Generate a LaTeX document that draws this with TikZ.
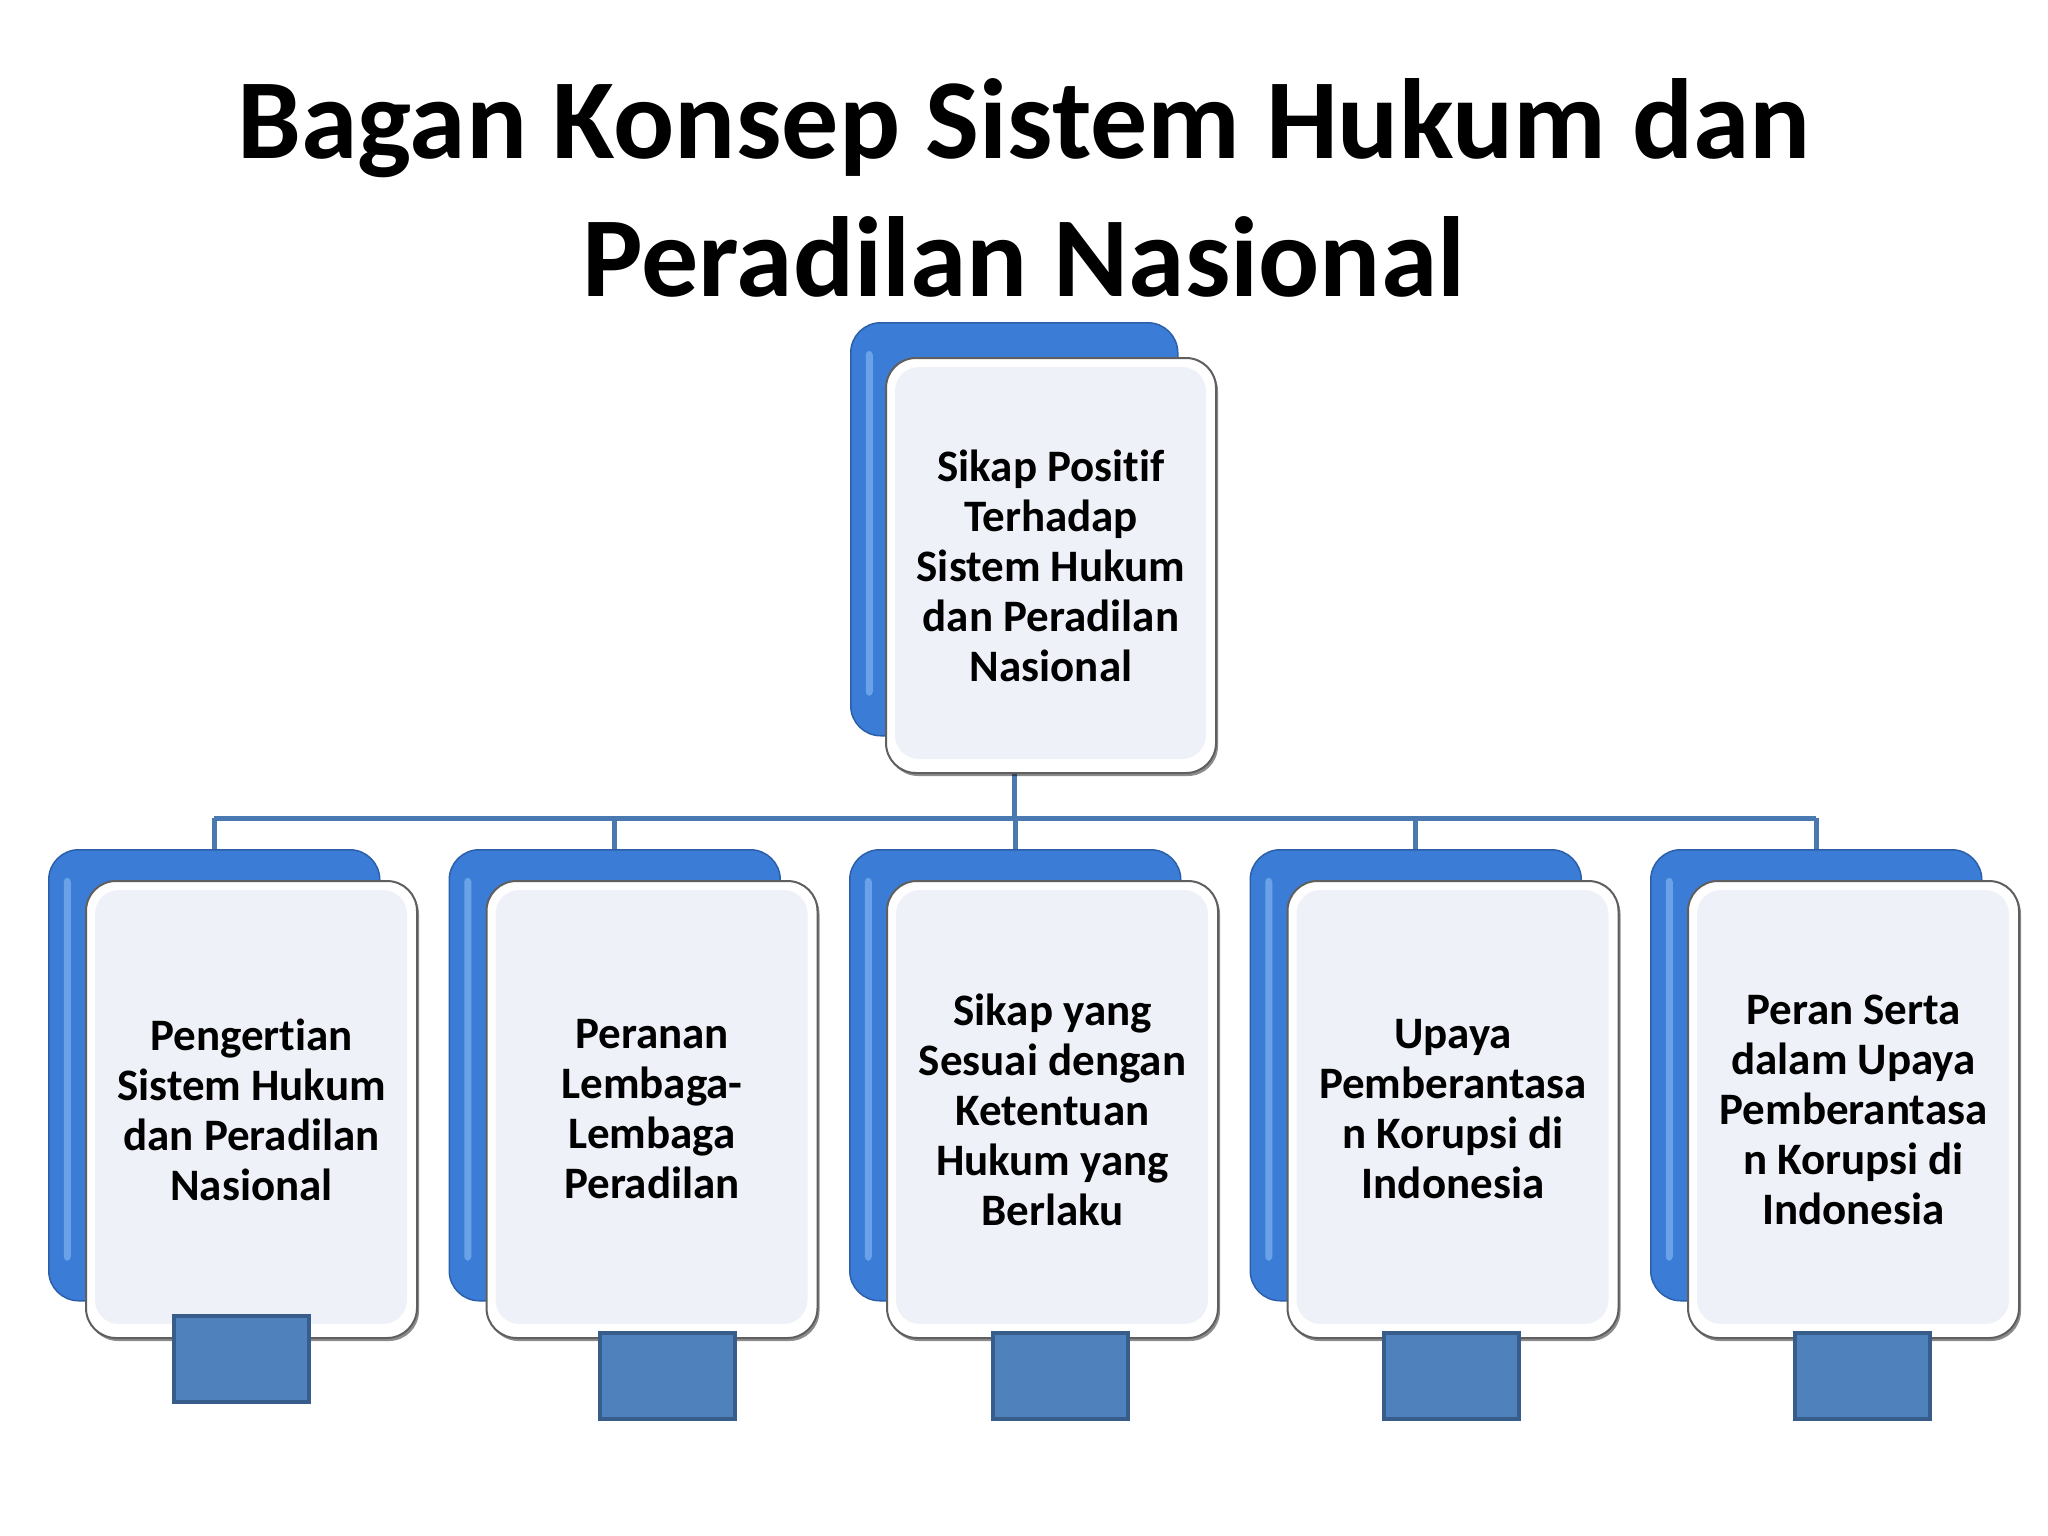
\documentclass[tikz,border=0pt]{standalone}
\usepackage{fontspec}
\setmainfont[Ligatures={NoCommon}]{Carlito}
\usetikzlibrary{shadows}
\definecolor{blueA}{RGB}{59,125,214}
\definecolor{blueD}{RGB}{44,95,170}
\definecolor{blueL}{RGB}{125,178,240}
\definecolor{frontD}{RGB}{95,95,95}
\definecolor{innerF}{RGB}{238,241,248}
\definecolor{connC}{RGB}{74,120,176}
\definecolor{tabF}{RGB}{79,129,189}
\definecolor{tabD}{RGB}{56,93,138}
\tikzset{
  backbox/.style={draw=blueD, line width=1.5pt, fill=blueA, rounded corners=30pt,
    inner sep=0pt, anchor=north west,
    path picture={\fill[blueL, opacity=0.7, rounded corners=4pt]
      ([shift={(15pt,-28pt)}]path picture bounding box.north west) rectangle
      ([shift={(22pt,40pt)}]path picture bounding box.south west);}},
  frontbox/.style={draw=frontD, line width=2pt, fill=white, rounded corners=30pt,
    inner sep=0pt, anchor=north west, align=center,
    font=\fontsize{45}{50}\selectfont\bfseries,
    drop shadow={shadow xshift=2pt, shadow yshift=-3pt, opacity=0.45, fill=black},
    path picture={\fill[innerF, rounded corners=24pt]
      ([shift={(9pt,-9pt)}]path picture bounding box.north west) rectangle
      ([shift={(-10pt,14pt)}]path picture bounding box.south east);}},
  tabbox/.style={draw=tabD, line width=4pt, fill=tabF, inner sep=0pt,
    minimum width=135pt, minimum height=86pt, anchor=north west},
  conn/.style={draw=connC, line width=5pt},
  titletext/.style={font=\fontsize{114}{138}\selectfont\bfseries, anchor=base, inner sep=0pt}
}
\begin{document}
\begin{tikzpicture}[x=1pt,y=-1pt]
\useasboundingbox (0,0) rectangle (2048,1536);
\fill[white] (0,0) rectangle (2048,1536);
% title
\node[titletext] (t1) at (1024,158) {Bagan Konsep Sistem Hukum dan};
\node[titletext] (t2) at (1024,296) {Peradilan Nasional};
% back boxes
\node[backbox, minimum width=327pt, minimum height=413pt] (topB) at (850,322) {};
\node[backbox, minimum width=331pt, minimum height=451pt] (b1) at (48,849) {};
\node[backbox, minimum width=331pt, minimum height=451pt] (b2) at (448.5,849) {};
\node[backbox, minimum width=331pt, minimum height=451pt] (b3) at (849,849) {};
\node[backbox, minimum width=331pt, minimum height=451pt] (b4) at (1249.5,849) {};
\node[backbox, minimum width=331pt, minimum height=451pt] (b5) at (1650,849) {};
% connectors
\coordinate (bus) at (0,818);
\draw[conn] (b1.north |- bus) -- (b5.north |- bus);
\draw[conn] (topB.south) -- (topB.south |- bus);
\foreach \n in {b1,b2,b3,b4,b5}{\draw[conn] (\n.north |- bus) -- (\n.north);}
% front boxes
\node[frontbox, minimum width=330pt, minimum height=415pt] (topF) at (885,357)
  {Sikap Positif\\Terhadap\\Sistem Hukum\\dan Peradilan\\Nasional};
\node[frontbox, minimum width=331pt, minimum height=457pt] (f1) at (85,880)
  {Pengertian\\Sistem Hukum\\dan Peradilan\\Nasional};
\node[frontbox, minimum width=331pt, minimum height=457pt] (f2) at (485.5,880)
  {Peranan\\Lembaga-\\Lembaga\\Peradilan};
\node[frontbox, minimum width=331pt, minimum height=457pt] (f3) at (886,880)
  {Sikap yang\\Sesuai dengan\\Ketentuan\\Hukum yang\\Berlaku};
\node[frontbox, minimum width=331pt, minimum height=457pt] (f4) at (1286.5,880)
  {Upaya\\Pemberantasa\\n Korupsi di\\Indonesia};
\node[frontbox, minimum width=331pt, minimum height=457pt] (f5) at (1687,880)
  {Peran Serta\\dalam Upaya\\Pemberantasa\\n Korupsi di\\Indonesia};
% tabs
\node[tabbox] (s1) at (172,1314) {};
\node[tabbox] (s2) at (598,1331) {};
\node[tabbox] (s3) at (991,1331) {};
\node[tabbox] (s4) at (1382,1331) {};
\node[tabbox] (s5) at (1793,1331) {};
\end{tikzpicture}
\end{document}
